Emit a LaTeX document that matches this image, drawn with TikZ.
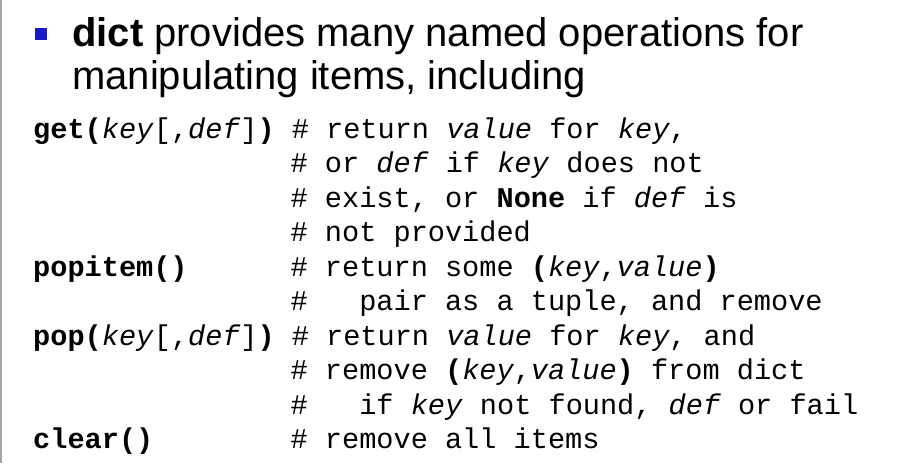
\documentclass[tikz,border=0pt]{standalone}
\usepackage{fontspec}
\setmainfont{Liberation Sans}
\setmonofont{Liberation Mono}
\tikzset{
  title line/.style={anchor=base west, inner sep=0pt, font=\fontsize{40}{44}\selectfont},
  code line/.style={anchor=base west, inner sep=0pt, font=\ttfamily\fontsize{28.6}{34}\selectfont}
}
\newcommand{\kw}[1]{\textbf{#1}}
\newcommand{\ar}[1]{\textit{#1}}
\begin{document}
\begin{tikzpicture}[x=1pt,y=-1pt]
  \useasboundingbox (0,0) rectangle (909,463);
  \draw[gray!70, line width=1.5pt] (1,0) -- (1,463);

  % bullet and heading
  \fill[blue!75!black!90] (35,28) rectangle (47,40);
  \node (T1) [title line] at (72,46) {\textbf{dict} provides many named operations for};
  \node (T2) [title line] at (72,89) {manipulating items, including};

  % operations, one line each
  \node (L1) [code line] at (33,138) {\kw{get(}\ar{key}[,\ar{def}]\kw{)}\ \#\ return\ \ar{value}\ for\ \ar{key},};
  \node (L2) [code line] at (33,172.5) {\phantom{get(key[,def])}\ \#\ or\ \ar{def}\ if\ \ar{key}\ does\ not};
  \node (L3) [code line] at (33,207) {\phantom{get(key[,def])}\ \#\ exist,\ or\ \kw{None}\ if\ \ar{def}\ is};
  \node (L4) [code line] at (33,241.5) {\phantom{get(key[,def])}\ \#\ not\ provided};
  \node (L5) [code line] at (33,276) {\kw{popitem()}\phantom{[,def}\ \#\ return\ some\ \kw{(}\ar{key},\ar{value}\kw{)}};
  \node (L6) [code line] at (33,310.5) {\phantom{get(key[,def])}\ \#\ \ \ pair\ as\ a\ tuple,\ and\ remove};
  \node (L7) [code line] at (33,345) {\kw{pop(}\ar{key}[,\ar{def}]\kw{)}\ \#\ return\ \ar{value}\ for\ \ar{key},\ and};
  \node (L8) [code line] at (33,379.5) {\phantom{get(key[,def])}\ \#\ remove\ \kw{(}\ar{key},\ar{value}\kw{)}\ from\ dict};
  \node (L9) [code line] at (33,414) {\phantom{get(key[,def])}\ \#\ \ \ if\ \ar{key}\ not\ found,\ \ar{def}\ or\ fail};
  \node (L10) [code line] at (33,448.5) {\kw{clear()}\phantom{y[,def]}\ \#\ remove\ all\ items};
\end{tikzpicture}
\end{document}
